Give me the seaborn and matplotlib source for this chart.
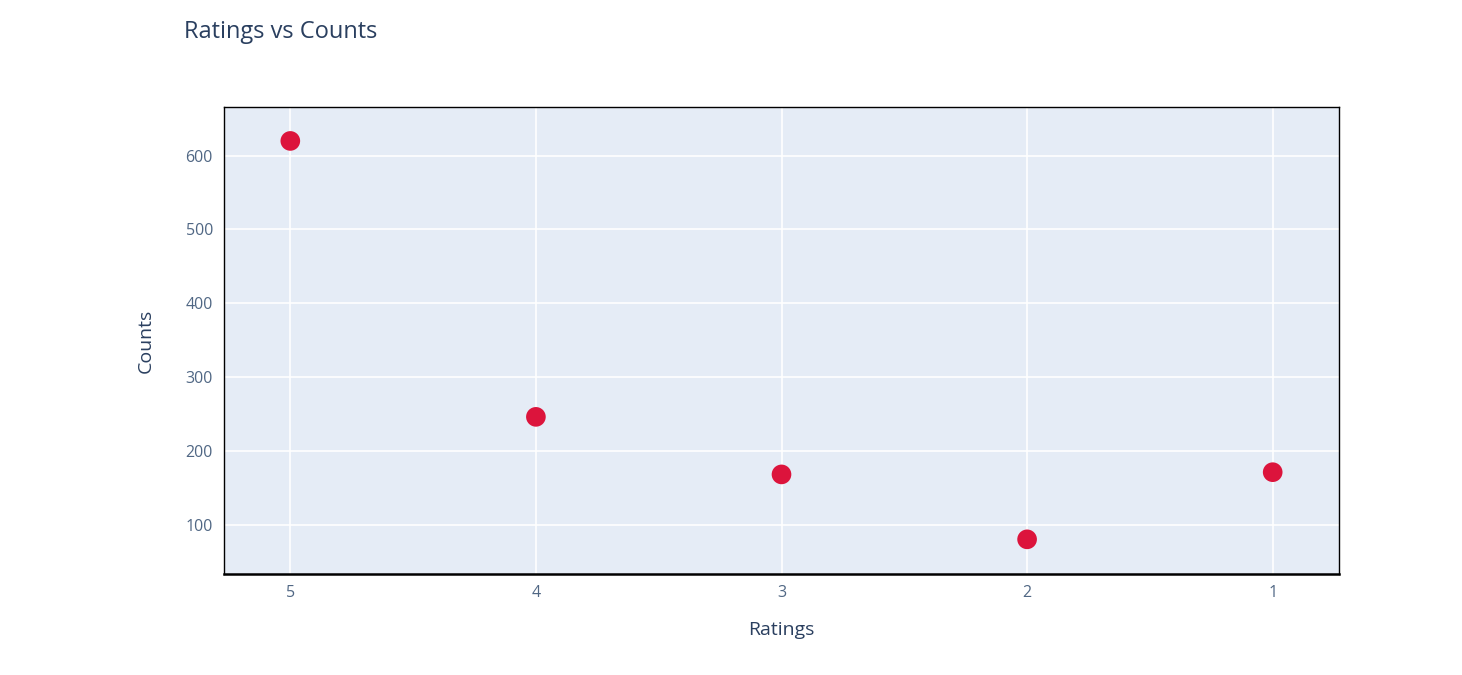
import matplotlib
matplotlib.use("Agg")
import matplotlib.pyplot as plt
import seaborn as sns
import pandas as pd

ratings = ["5", "4", "3", "2", "1"]
counts = [620, 246, 168, 80, 171]

sns.set_theme(style="darkgrid")
plt.rcParams['font.family'] = ['Open Sans', 'DejaVu Sans']
df = pd.DataFrame({"Ratings": ratings, "Counts": counts})

fig = plt.figure(figsize=(14.62, 6.75), dpi=100)
ax = fig.add_axes([224/1462, 1-574/675, (1339-224)/1462, (574-107)/675])
ax.set_facecolor("#E5ECF6")
sns.scatterplot(data=df, x="Ratings", y="Counts", ax=ax, color="#DC143C", s=200, edgecolor="none", zorder=3)
ax.set_xlim(-0.27, 4.27)
ax.set_ylim(33, 666)
ax.set_yticks([100, 200, 300, 400, 500, 600])
ax.grid(color="white", linewidth=1.2)
for s in ax.spines.values():
    s.set_visible(True); s.set_color("black"); s.set_linewidth(1)
ax.spines['bottom'].set_linewidth(1.8)
ax.tick_params(colors="#506784", labelsize=11.5, length=0, pad=8)
ax.set_xlabel("Ratings", fontsize=14, color="#2A3F5F", labelpad=14)
ax.set_ylabel("Counts", fontsize=14, color="#2A3F5F", labelpad=22)
fig.text(184/1462, 1-32/675, "Ratings vs Counts", fontsize=17, color="#2A3F5F", va="center")
fig.savefig("out.png", dpi=100, facecolor="white")
